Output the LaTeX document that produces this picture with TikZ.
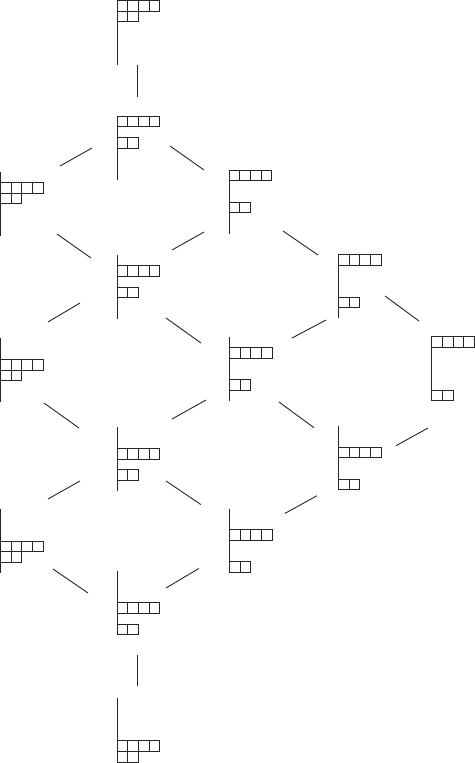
\documentclass[tikz,border=0pt]{standalone}
\usetikzlibrary{calc}
\def\bs{10.67}
\tikzset{
  diagline/.style={line width=0.9pt, draw=black!85},
  conn/.style={line width=0.9pt, draw=black!85},
  diagbox/.style={inner sep=0pt, minimum width=42.7pt, minimum height=64pt, draw=none}
}
\newcommand{\ydiag}[5]{%
  \node[diagbox, anchor=north west] (#1) at (#2,#3) {};
  \draw[diagline] (#2,#3) -- ++(0,64);
  \foreach \k in {0,...,3} {\draw[diagline] ({#2+\k*\bs},{#3+#4*\bs}) rectangle ++(\bs,\bs);}
  \foreach \k in {0,1} {\draw[diagline] ({#2+\k*\bs},{#3+#5*\bs}) rectangle ++(\bs,\bs);}
}
\begin{document}
\begin{tikzpicture}[x=1pt,y=-1pt]
\useasboundingbox (0,0) rectangle (474,763);
\ydiag{A}{117}{0.5}{0}{1}
\ydiag{B}{117}{116}{0}{2}
\ydiag{C}{0.5}{171.7}{1}{2}
\ydiag{D}{229}{170}{0}{3}
\ydiag{E}{117}{255}{1}{3}
\ydiag{F}{338.3}{254.3}{0}{4}
\ydiag{G}{0.5}{338}{2}{3}
\ydiag{H}{229.5}{337}{1}{4}
\ydiag{I}{431.7}{336.7}{0}{5}
\ydiag{J}{117}{427}{2}{4}
\ydiag{K}{338.3}{425.7}{2}{5}
\ydiag{L}{0.5}{509}{3}{4}
\ydiag{M}{229.3}{508.5}{2}{5}
\ydiag{N}{117}{570.7}{3}{5}
\ydiag{O}{117}{698}{4}{5}
\draw[conn] ([shift={(20,64.5)}]A.north west) -- ([shift={(20,-19)}]B.north west);
\draw[conn] ([shift={(-25,32)}]B.north west) -- ([shift={(59.5,-5.7)}]C.north west);
\draw[conn] ([shift={(53,30)}]B.north west) -- ([shift={(-25,0)}]D.north west);
\draw[conn] ([shift={(56.5,62.3)}]C.north west) -- ([shift={(-26,3)}]E.north west);
\draw[conn] ([shift={(-25,62)}]D.north west) -- ([shift={(55,-5)}]E.north west);
\draw[conn] ([shift={(54,61)}]D.north west) -- ([shift={(-20.3,0.7)}]F.north west);
\draw[conn] ([shift={(-37,48)}]E.north west) -- ([shift={(47.5,-16)}]G.north west);
\draw[conn] ([shift={(49,63)}]E.north west) -- ([shift={(-28.5,6)}]H.north west);
\draw[conn] ([shift={(-12.3,65.7)}]F.north west) -- ([shift={(62.5,1)}]H.north west);
\draw[conn] ([shift={(46.7,41.7)}]F.north west) -- ([shift={(-12.7,-15.7)}]I.north west);
\draw[conn] ([shift={(43.5,65)}]G.north west) -- ([shift={(-38,1)}]J.north west);
\draw[conn] ([shift={(-23.5,63)}]H.north west) -- ([shift={(55,-8)}]J.north west);
\draw[conn] ([shift={(49.5,65)}]H.north west) -- ([shift={(-24.3,2)}]K.north west);
\draw[conn] ([shift={(-3.7,91.3)}]I.north west) -- ([shift={(57.7,20)}]K.north west);
\draw[conn] ([shift={(-37,54)}]J.north west) -- ([shift={(47.5,-10)}]L.north west);
\draw[conn] ([shift={(49,54)}]J.north west) -- ([shift={(-28.5,-4)}]M.north west);
\draw[conn] ([shift={(-21.3,70)}]K.north west) -- ([shift={(55.5,5)}]M.north west);
\draw[conn] ([shift={(52.5,60)}]L.north west) -- ([shift={(-29,22.3)}]N.north west);
\draw[conn] ([shift={(-30.5,60)}]M.north west) -- ([shift={(49,17.3)}]N.north west);
\draw[conn] ([shift={(20,84.3)}]N.north west) -- ([shift={(20,-12)}]O.north west);
\end{tikzpicture}
\end{document}
